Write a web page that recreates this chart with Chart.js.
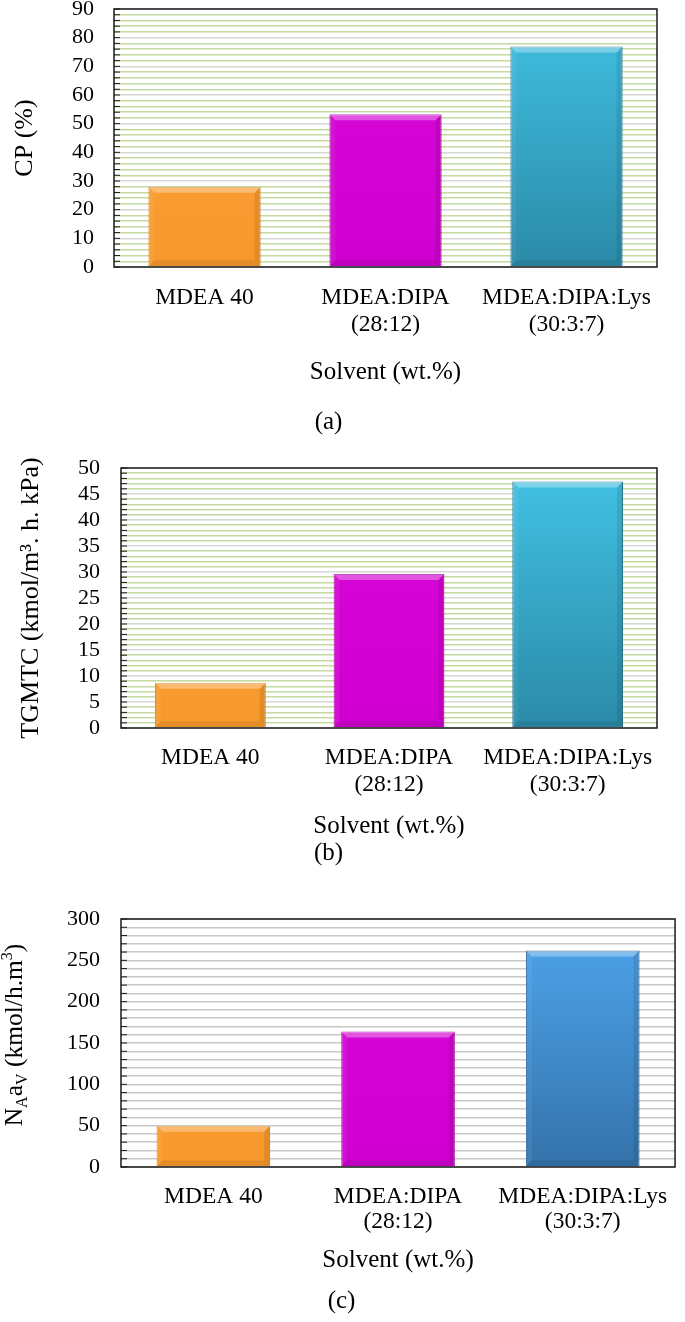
<!DOCTYPE html>
<html>
<head>
<meta charset="utf-8">
<script src="https://cdn.jsdelivr.net/npm/chart.js@4.4.0/dist/chart.umd.min.js"></script>
<style>
body { margin: 0; background: #fff; }
#wrap { position: relative; width: 685px; height: 1322px; overflow: hidden; }
#wrap canvas { position: absolute; left: 0; }
</style>
</head>
<body>
<div id="wrap">
  <canvas id="chartA" width="685" height="480" style="top:-27px"></canvas>
  <canvas id="chartB" width="685" height="445" style="top:432px"></canvas>
  <canvas id="chartC" width="685" height="439" style="top:883px"></canvas>
</div>
<script>
// 용매 (x축)
const solvents = ['MDEA 40', ['MDEA:DIPA', '(28:12)'], ['MDEA:DIPA:Lys', '(30:3:7)']];

// (a) CP (%)
const cpValues = [28, 53.3, 76.9];
// (b) TGMTC
const tgmtcValues = [8.7, 29.6, 47.4];
// (c) NAaV
const naavValues = [50, 164, 262];

// y축 범위 : [max, minor step, label step]
const cpAxis = [90, 2, 10];
const tgmtcAxis = [50, 1, 5];
const naavAxis = [300, 10, 50];

const serif = "'Liberation Serif', 'Times New Roman', serif";

// bar colours (top, bottom, border)
const barsAB = [['#fda53c', '#f7982c', '#d9831e'], ['#d808d8', '#cf00cf', '#a800a8'], ['#42c2e4', '#2b8aa8', '#24758f']];
const barsC = [['#fda53c', '#f7982c', '#d9831e'], ['#d808d8', '#cf00cf', '#a800a8'], ['#4fa6ee', '#3473ab', '#2b6496']];

function barFill(colors) {
    return function(context) {
        const c = colors[context.dataIndex];
        const area = context.chart.chartArea;
        if (!area) return c[0];
        const g = context.chart.ctx.createLinearGradient(0, area.top, 0, area.bottom);
        g.addColorStop(0, c[0]);
        g.addColorStop(1, c[1]);
        return g;
    };
}

// bevel + frame + inner tick marks
const framePlugin = {
    id: 'frame',
    afterDatasetsDraw(chart) {
        const ctx = chart.ctx;
        const a = chart.chartArea;
        const y = chart.scales.y;
        ctx.save();
        chart.getDatasetMeta(0).data.forEach(bar => {
            const p = bar.getProps(['x', 'y', 'base', 'width'], true);
            const l = p.x - p.width / 2, r = p.x + p.width / 2, t = p.y, b = p.base, e = 6;
            const quad = (pts, fill) => {
                ctx.beginPath();
                ctx.moveTo(pts[0][0], pts[0][1]);
                pts.slice(1).forEach(q => ctx.lineTo(q[0], q[1]));
                ctx.closePath();
                ctx.fillStyle = fill;
                ctx.fill();
            };
            quad([[l, t], [r, t], [r - e, t + e], [l + e, t + e]], 'rgba(255,255,255,0.32)');
            quad([[l, t], [l + e, t + e], [l + e, b - e], [l, b]], 'rgba(255,255,255,0.06)');
            quad([[r, t], [r - e, t + e], [r - e, b - e], [r, b]], 'rgba(0,0,0,0.09)');
            quad([[l, b], [l + e, b - e], [r - e, b - e], [r, b]], 'rgba(0,0,0,0.08)');
        });
        ctx.strokeStyle = '#1a1a1a';
        ctx.lineWidth = 1;
        ctx.beginPath();
        y.ticks.forEach(tk => {
            const py = y.getPixelForValue(tk.value);
            ctx.moveTo(a.left, py);
            ctx.lineTo(a.left + 6, py);
        });
        ctx.stroke();
        ctx.lineWidth = 1.5;
        ctx.strokeRect(a.left, a.top, a.right - a.left, a.bottom - a.top);
        ctx.restore();
    }
};

// N_A a_V (kmol/h.m^3) 세로 제목
const naavTitle = {
    id: 'naavTitle',
    afterDraw(chart) {
        const ctx = chart.ctx;
        const a = chart.chartArea;
        const parts = [['N', 0], ['A', 1], ['a', 0], ['V', 1], [' (kmol/h.m', 0], ['3', -1], [')', 0]];
        const big = '25.5px ' + serif, small = '16px ' + serif;
        ctx.save();
        let total = 0;
        parts.forEach(pt => { ctx.font = pt[1] ? small : big; total += ctx.measureText(pt[0]).width; });
        ctx.translate(22, (a.top + a.bottom) / 2 - 8);
        ctx.rotate(-Math.PI / 2);
        ctx.fillStyle = '#000';
        ctx.textBaseline = 'alphabetic';
        let x = -total / 2;
        parts.forEach(pt => {
            ctx.font = pt[1] ? small : big;
            const dy = pt[1] === 1 ? 5 : (pt[1] === -1 ? -10 : 0);
            ctx.fillText(pt[0], x, dy);
            x += ctx.measureText(pt[0]).width;
        });
        ctx.restore();
    }
};

function yScale(axis, width, pad, title, titlePad, majorColor, minorColor) {
    return {
        min: 0,
        max: axis[0],
        afterFit: function(s) { s.width = width; },
        ticks: {
            stepSize: axis[1],
            autoSkip: false,
            padding: pad,
            color: '#000',
            font: { family: serif, size: 22 },
            callback: v => (v % axis[2] === 0 ? v : '')
        },
        grid: {
            drawTicks: false,
            lineWidth: 1.5,
            color: c => (c.tick && c.tick.value % axis[2] === 0 ? majorColor : minorColor)
        },
        border: { display: false },
        title: title ? {
            display: true,
            text: title,
            color: '#000',
            font: { family: serif, size: 26, lineHeight: 1 },
            padding: { top: titlePad, bottom: 0 }
        } : { display: false }
    };
}

function xScale(height, pad, lineH) {
    return {
        afterFit: function(s) { s.height = height; },
        grid: { display: false, drawTicks: false },
        border: { display: false },
        ticks: {
            autoSkip: false,
            maxRotation: 0,
            padding: pad,
            color: '#000',
            font: { family: serif, size: 23.5, lineHeight: lineH }
        },
        title: {
            display: true,
            text: 'Solvent (wt.%)',
            color: '#000',
            font: { family: serif, size: 25, lineHeight: 1 },
            padding: 0
        }
    };
}

function makeChart(id, values, colors, opt) {
    const ctx = document.getElementById(id).getContext('2d');
    return new Chart(ctx, {
        type: 'bar',
        data: {
            labels: solvents,
            datasets: [{
                data: values,
                backgroundColor: barFill(colors),
                borderColor: colors.map(c => c[2]),
                borderWidth: 1,
                categoryPercentage: 1,
                barPercentage: opt.barPct
            }]
        },
        options: {
            responsive: false,
            animation: false,
            layout: { padding: opt.padding },
            scales: { x: opt.x, y: opt.y },
            plugins: {
                legend: { display: false },
                tooltip: { enabled: false },
                title: {
                    display: true,
                    position: 'bottom',
                    text: opt.label,
                    color: '#000',
                    font: { family: serif, size: 25, weight: 'normal', lineHeight: 1 },
                    padding: { top: opt.labelPad, bottom: 0 }
                }
            }
        },
        plugins: opt.plugins
    });
}

makeChart('chartA', cpValues, barsAB, {
    barPct: 0.62,
    padding: { top: 36, left: 0, right: 28, bottom: 18.5 },
    x: xScale(117.5, 17.5, 27 / 23.5),
    y: yScale(cpAxis, 114, 20, 'CP (%)', 12.5, '#d6d6d6', '#c4da9e'),
    label: '(a)',
    labelPad: 25,
    plugins: [framePlugin]
});

makeChart('chartB', tgmtcValues, barsAB, {
    barPct: 0.62,
    padding: { top: 36, left: 0, right: 28, bottom: 11.5 },
    x: xScale(110.5, 16.5, 27 / 23.5),
    y: yScale(tgmtcAxis, 121, 21, 'TGMTC (kmol/m³. h. kPa)', 18, '#d6d6d6', '#c4da9e'),
    label: '(b)',
    labelPad: 2,
    plugins: [framePlugin]
});

makeChart('chartC', naavValues, barsC, {
    barPct: 0.615,
    padding: { top: 36, left: 0, right: 2, bottom: 8.5 },
    x: xScale(105.5, 17.5, 25 / 23.5),
    y: yScale(naavAxis, 121, 21, null, 0, '#c8c8c8', '#c8c8c8'),
    label: '(c)',
    labelPad: 16,
    plugins: [framePlugin, naavTitle]
});
</script>
</body>
</html>
